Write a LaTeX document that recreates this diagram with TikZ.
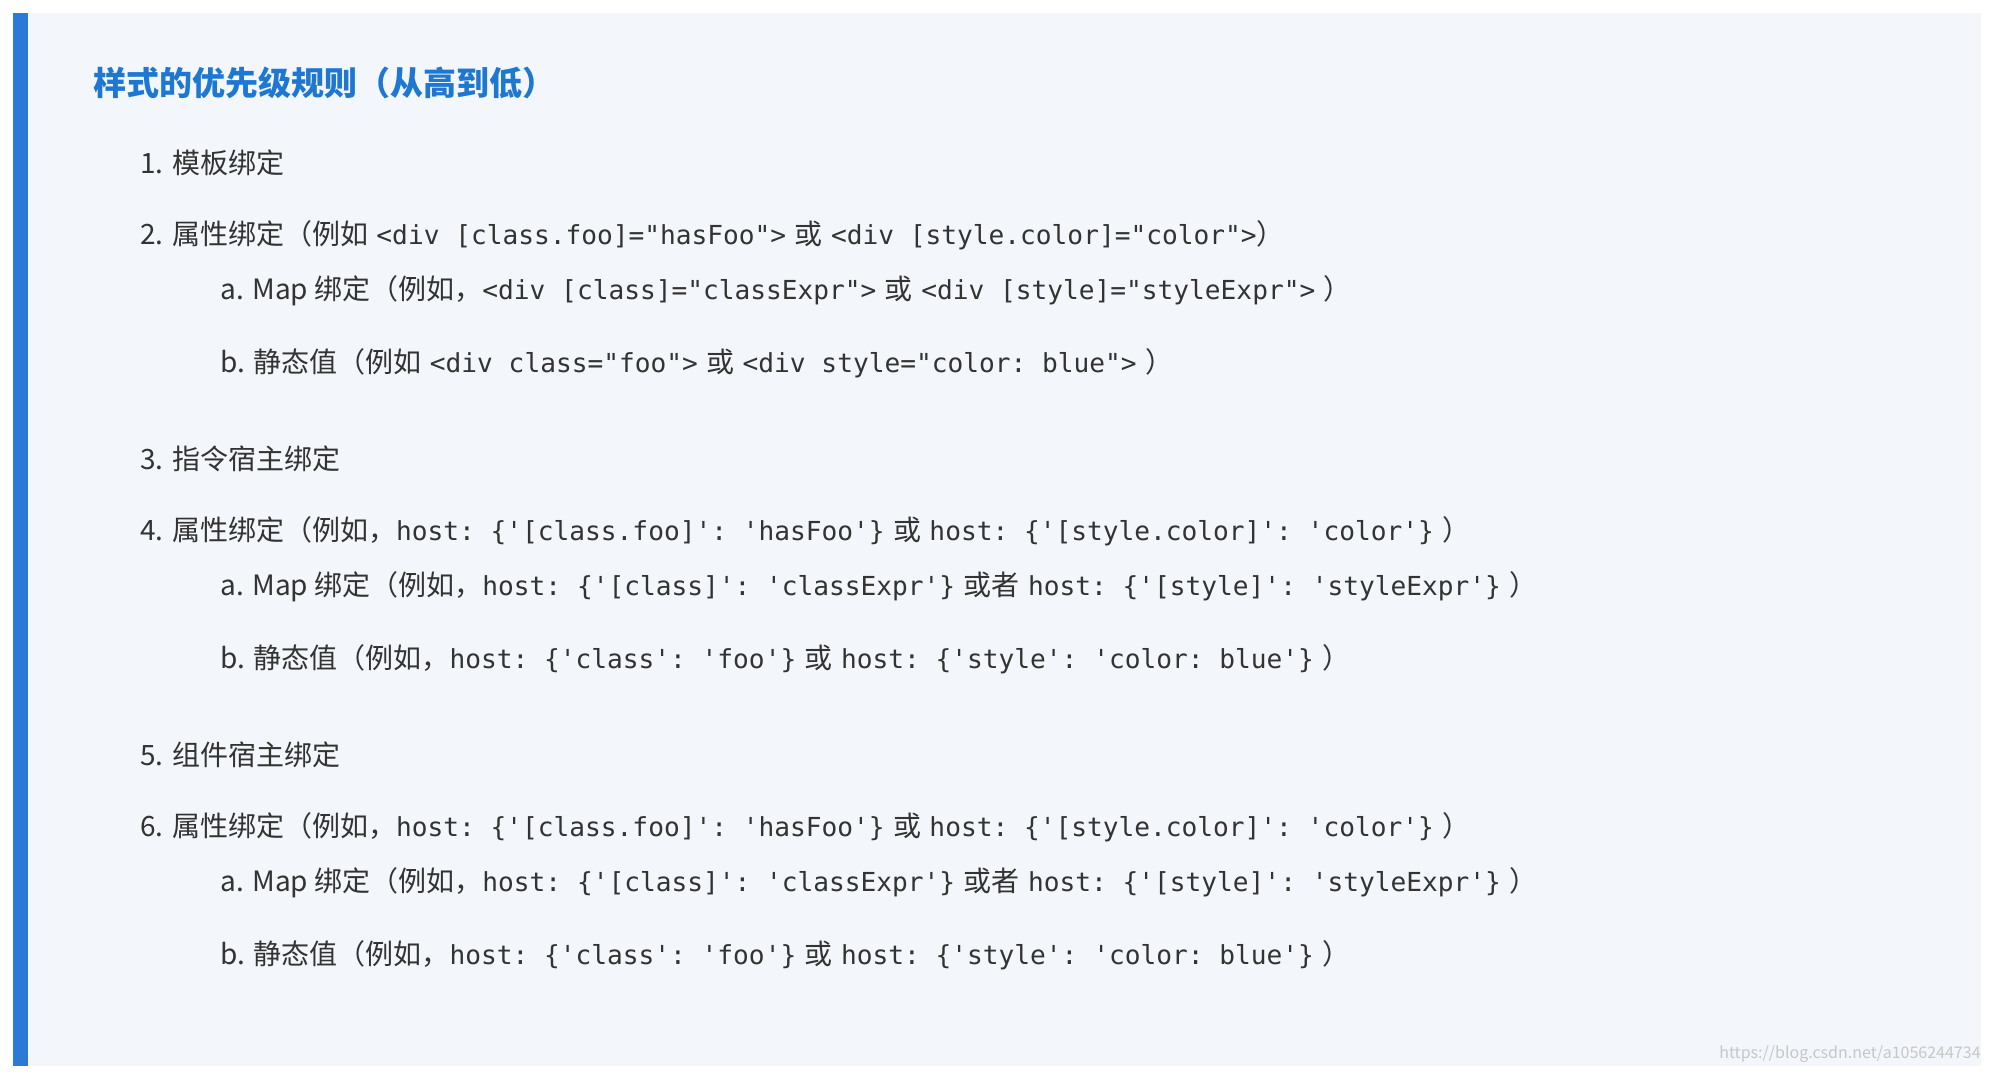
\documentclass[tikz,border=0pt]{standalone}
\usepackage{fontspec}
\setmainfont{Noto Sans CJK SC}
\setmonofont{DejaVu Sans Mono}[Scale=0.935]
\definecolor{bar}{HTML}{2B7BD6}
\definecolor{ttl}{HTML}{1E78D2}
\definecolor{bgc}{HTML}{F3F6FA}
\definecolor{txt}{HTML}{333333}
\newcommand{\cd}[1]{{\ttfamily #1}}
\newcommand{\gp}{\hspace{0.3em}}
\tikzset{itm/.style={anchor=west,inner sep=0pt,text=txt,font=\fontsize{14}{16}\selectfont},
 ttlst/.style={anchor=west,inner sep=0pt,text=ttl,font=\fontsize{16.5}{19}\selectfont\bfseries}}
\begin{document}
\begin{tikzpicture}[x=0.5pt,y=-0.5pt]
\useasboundingbox (0,0) rectangle (1992,1074);
\fill[white] (0,0) rectangle (1992,1074);
\fill[bgc] (13,13) rectangle (1981,1066);
\fill[bar] (13,13) rectangle (28,1066);
\node[ttlst] (t) at (93,83) {样式的优先级规则（从高到低）};
\node[itm] (i1) at (140,163) {1. 模板绑定};
\node[itm] (i2) at (140,235) {2. 属性绑定（例如\gp\cd{<div [class.foo]="hasFoo">}\gp 或\gp\cd{<div [style.color]="color">}）};
\node[itm] (i2a) at (220,291) {a. Map 绑定（例如，\cd{<div [class]="classExpr">}\gp 或\gp\cd{<div [style]="styleExpr">}\gp）};
\node[itm] (i2b) at (220,363) {b. 静态值（例如\gp\cd{<div class="foo">}\gp 或\gp\cd{<div style="color: blue">}\gp）};
\node[itm] (i3) at (140,459) {3. 指令宿主绑定};
\node[itm] (i4) at (140,531) {4. 属性绑定（例如，\cd{host: \{'[class.foo]': 'hasFoo'\}}\gp 或\gp\cd{host: \{'[style.color]': 'color'\}}\gp）};
\node[itm] (i4a) at (220,587) {a. Map 绑定（例如，\cd{host: \{'[class]': 'classExpr'\}}\gp 或者\gp\cd{host: \{'[style]': 'styleExpr'\}}\gp）};
\node[itm] (i4b) at (220,659) {b. 静态值（例如，\cd{host: \{'class': 'foo'\}}\gp 或\gp\cd{host: \{'style': 'color: blue'\}}\gp）};
\node[itm] (i5) at (140,755) {5. 组件宿主绑定};
\node[itm] (i6) at (140,827) {6. 属性绑定（例如，\cd{host: \{'[class.foo]': 'hasFoo'\}}\gp 或\gp\cd{host: \{'[style.color]': 'color'\}}\gp）};
\node[itm] (i6a) at (220,883) {a. Map 绑定（例如，\cd{host: \{'[class]': 'classExpr'\}}\gp 或者\gp\cd{host: \{'[style]': 'styleExpr'\}}\gp）};
\node[itm] (i6b) at (220,955) {b. 静态值（例如，\cd{host: \{'class': 'foo'\}}\gp 或\gp\cd{host: \{'style': 'color: blue'\}}\gp）};
\node[anchor=east,inner sep=0pt,text=black!22,font=\fontsize{8}{9}\selectfont] (wm) at (1981,1054) {https://blog.csdn.net/a1056244734};
\end{tikzpicture}
\end{document}
